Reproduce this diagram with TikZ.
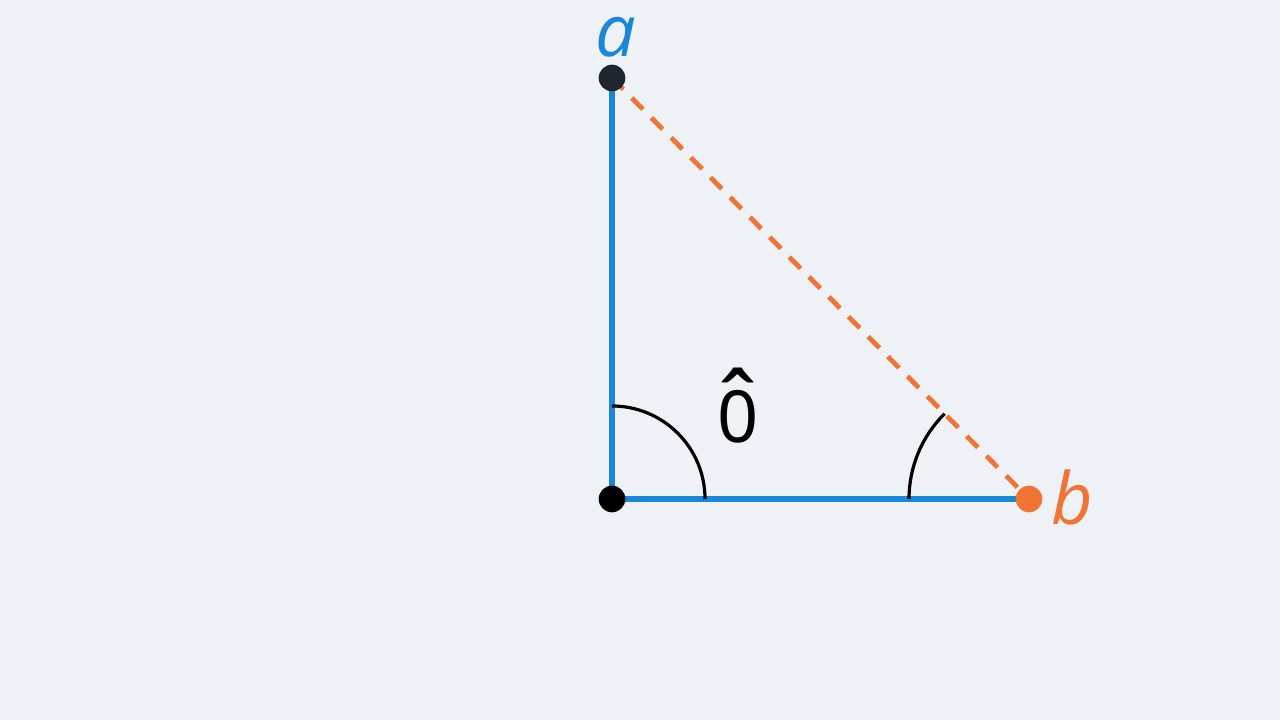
\documentclass[tikz,border=0pt]{standalone}
\usepackage{fontspec}
\setmainfont{Open Sans}
\newfontfamily\hatfont{Noto Sans}
\definecolor{bgcol}{HTML}{EEF2F6}
\definecolor{legblue}{HTML}{1A87D9}
\definecolor{hypor}{HTML}{F07534}
\definecolor{dotdark}{HTML}{1F2630}
\tikzset{
  leg/.style={color=legblue, line width=4.5pt},
  hypo/.style={color=hypor, line width=3.6pt, dash pattern=on 12pt off 9pt},
  anglearc/.style={line width=2.4pt, color=black},
  dotnode/.style={circle, inner sep=0pt, minimum size=20pt, fill=#1},
  lbl/.style={inner sep=0.75pt, font=\fontsize{54}{60}\selectfont}
}
\newcommand{\hatzero}{\ooalign{0\cr\hidewidth\raisebox{0.05em}{\fontsize{70}{72}\selectfont\char"02C6}\hidewidth\cr}}
\begin{document}
\begin{tikzpicture}[x=0.75pt,y=0.75pt]
\fill[bgcol] (0,0) rectangle (1280,720);
\useasboundingbox (0,0) rectangle (1280,720);

\coordinate (O) at (612,221);
\coordinate (A) at (612,642);
\coordinate (B) at (1029,221);

% legs and hypotenuse
\draw [leg] (A) -- (O) -- (B);
\draw [hypo] (A) -- (B);

% angles
\draw [anglearc] ([shift={(93,0)}]O) arc (0:90:93);
\draw [anglearc] ([shift={(-120,0)}]B) arc (180:134.7:120);

\node [dotnode=dotdark] (a) at (A) {};
\node [dotnode=black] (o) at (O) {};
\node [dotnode=hypor] (b) at (B) {};

\node [lbl, text=legblue] (la) at (616,683) {\itshape a};
\node [lbl, text=hypor] (lb) at (1072,222) {\itshape b};
\node [lbl, text=black, anchor=base] (lang) at (738,277) {\hatfont\hatzero};
\end{tikzpicture}
\end{document}
